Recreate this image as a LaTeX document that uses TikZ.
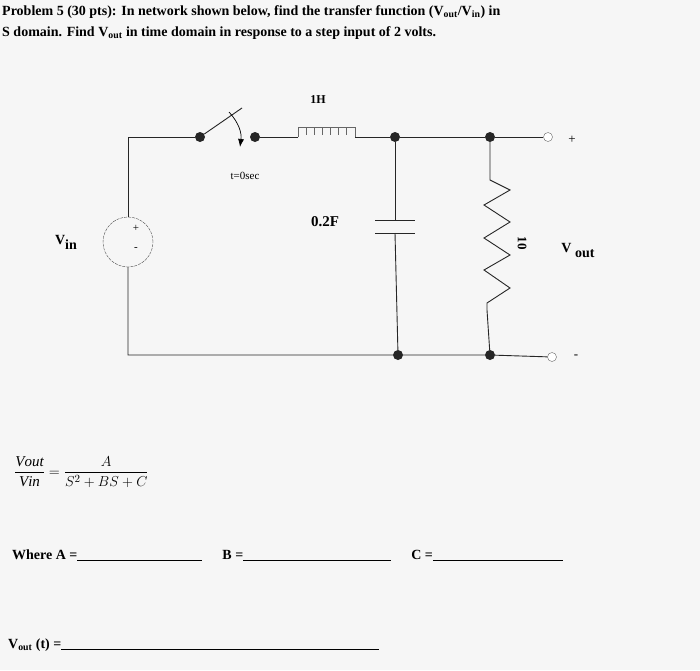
\documentclass[tikz,border=0pt]{standalone}
\usepackage{amsmath}
\usepackage{fontspec}
\setmainfont{Liberation Serif}
\usetikzlibrary{arrows.meta}
\begin{document}
\begin{tikzpicture}[x=1pt,y=-1pt,
  wire/.style={line width=0.9pt,black!85},
  dotn/.style={circle,fill=black!85,inner sep=0,minimum size=10pt},
  opn/.style={circle,draw=black!60,fill=white,inner sep=0,minimum size=9pt},
  lbl/.style={inner sep=0,font=\bfseries}]
\useasboundingbox[fill=white!93!gray] (0,0) rectangle (700,670);
\node[lbl,anchor=west,font=\bfseries\fontsize{14}{16}\selectfont] (t1) at (2,12) {Problem 5 (30 pts): In network shown below, find the transfer function (V\textsubscript{out}/V\textsubscript{in}) in};
\node[lbl,anchor=west,font=\bfseries\fontsize{14}{16}\selectfont] (t2) at (2,33) {S domain. Find V\textsubscript{out} in time domain in response to a step input of 2 volts.};
% nodes
\coordinate (tl) at (128,137);
\coordinate (bl) at (128,355);
\node[dotn] (s1) at (200,137) {};
\node[dotn] (s2) at (255,137) {};
\coordinate (l1) at (298,137);
\coordinate (l2) at (355,137);
\node[dotn] (n1) at (395,137) {};
\node[dotn] (n2) at (490,137) {};
\node[opn] (o1) at (548,137) {};
\node[dotn] (b1) at (398,355) {};
\node[dotn] (b2) at (490,355) {};
\node[opn] (o2) at (552,357) {};
\node[circle,draw=black!70,dash pattern=on 3pt off 1pt,minimum size=50pt,inner sep=0] (src) at (128,242) {};
\node[font=\fontsize{11}{12}\selectfont] at (136,228) {+};
\node[font=\fontsize{11}{12}\selectfont] at (136,249) {-};
% wires
\draw[wire] (src.north) -- (tl) -- (s1);
\draw[wire] (src.south) -- (bl) -- (b1) -- (b2) -- (o2);
\draw[wire] (s2) -- (l1);
\draw[wire] (l2) -- (n1) -- (n2) -- (o1);
\draw[wire,black!60] (l1) -- (298,127) -- (355,127) -- (l2);
\foreach \x in {306,314,322,330,338,346} \draw[black!60,line width=0.6pt] (\x,127) -- (\x,135);
% switch
\draw[wire] (s1) -- (242,108);
\draw[line width=0.7pt,-{Latex[length=8pt]}] (229,112) to[bend left=25] (240,147);
% capacitor
\draw[wire] (n1) -- (395,220);
\draw[wire] (375,220) -- (415,220);
\draw[wire] (375,233) -- (415,233);
\draw[wire] (395,233) -- (b1);
% resistor
\draw[wire] (n2) -- (490,180) -- (510,190) -- (484,205) -- (510,222) -- (484,238) -- (510,255) -- (484,270) -- (510,288) -- (487,303) -- (487,310) -- (b2);
% labels
\node[lbl,font=\bfseries\fontsize{12}{13}\selectfont] at (318,100) {1H};
\node[font=\fontsize{11}{12}\selectfont] at (245,176) {t=0sec};
\node[lbl,font=\bfseries\fontsize{15}{16}\selectfont] at (325,222) {0.2F};
\node[lbl,rotate=-90,font=\bfseries\fontsize{13}{14}\selectfont] at (522,250) {10 $\mathbf{\Omega}$};
\node[lbl,font=\bfseries\fontsize{14}{15}\selectfont] at (66,242) {V\raisebox{-5pt}{in}};
\node[lbl,font=\bfseries\fontsize{14}{15}\selectfont] at (578,250) {V\raisebox{-5pt}{ out}};
\node[font=\fontsize{13}{14}\selectfont] at (572,140) {+};
\node[font=\fontsize{13}{14}\selectfont] at (576,357) {-};
% equation
\node[anchor=west,inner sep=0,font=\fontsize{15}{18}\selectfont] (eq) at (14,472) {$\dfrac{\mathit{Vout}}{\mathit{Vin}}=\dfrac{A}{S^2+BS+C}$};
\node[lbl,anchor=west,font=\bfseries\fontsize{14}{16}\selectfont] (wa) at (12,555) {Where A =\rule[-1pt]{125pt}{0.6pt}\hspace{20pt}B =\rule[-1pt]{148pt}{0.6pt}\hspace{20pt}C =\rule[-1pt]{130pt}{0.6pt}};
\node[lbl,anchor=west,font=\bfseries\fontsize{14}{16}\selectfont] (vo) at (8,645) {V\textsubscript{out} (t) =\rule[-1pt]{318pt}{0.6pt}};
\end{tikzpicture}
\end{document}
